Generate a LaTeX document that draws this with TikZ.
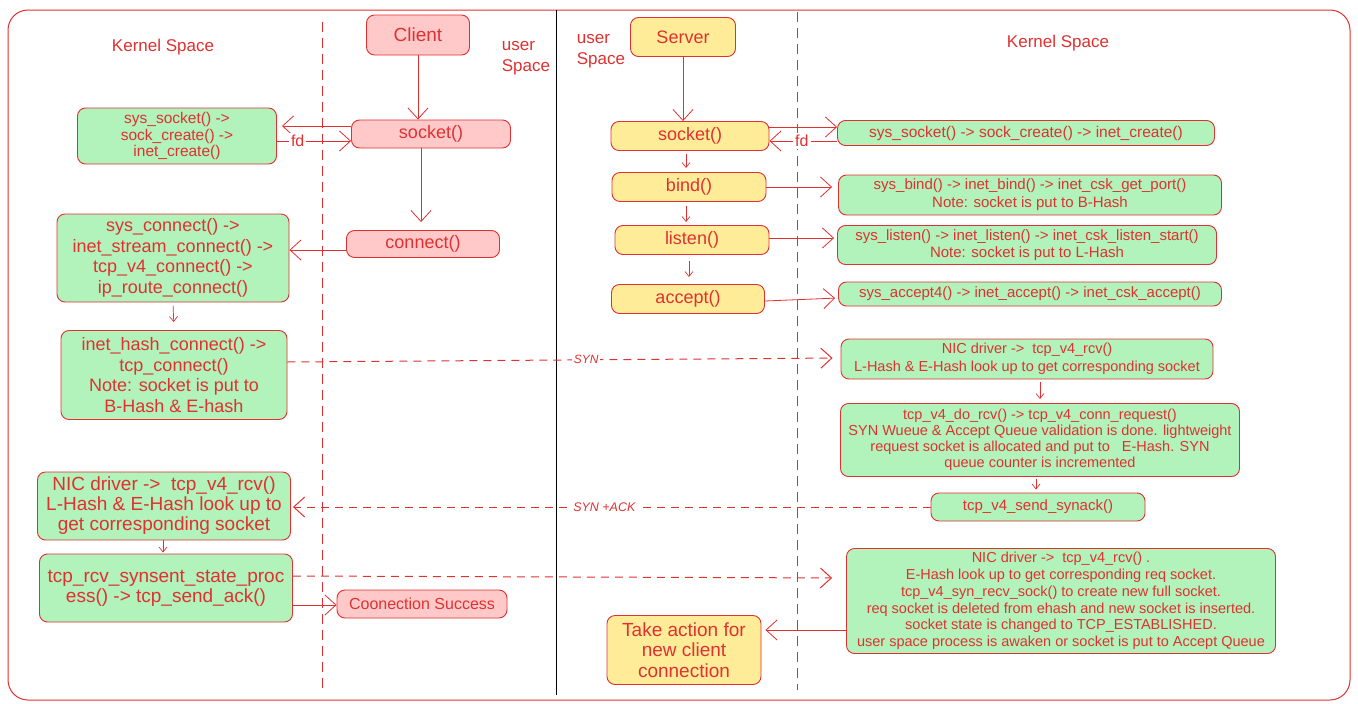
\documentclass[tikz,border=0pt]{standalone}
\usepackage{fontspec}
\setmainfont{Liberation Sans}
\usetikzlibrary{arrows.meta}

\definecolor{exred}{HTML}{E03131}
\definecolor{exgreen}{HTML}{B2F2BB}
\definecolor{expink}{HTML}{FFC9C9}
\definecolor{exyellow}{HTML}{FFEC99}
\newcommand{\fsz}[2]{\fontsize{#1}{#2}\selectfont}

\begin{document}
\begin{tikzpicture}[x=1pt,y=-1pt,
		box/.style={draw=exred, text=exred, rounded corners=8pt, line width=0.9pt, align=center, inner sep=2pt},
		kbox/.style={box, fill=exgreen},
		ubox/.style={box, fill=expink},
		sbox/.style={box, fill=exyellow},
		link/.style={draw=exred, line width=0.8pt, -{Straight Barb[length=11pt,width=20pt]}},
		hop/.style={draw=exred, line width=0.7pt, -{Straight Barb[length=5pt,width=8pt]}},
		pkt/.style={link, line width=1pt, dash pattern=on 8pt off 6pt},
		tag/.style={text=exred, fill=white, inner sep=2pt},
		title/.style={text=exred, align=left, font=\fsz{17}{21}}]
		\fill[white] (0,0) rectangle (1358,704);
		\useasboundingbox (0,0) rectangle (1358,704);

		% frame and space separators
		\draw[exred, line width=1pt, rounded corners=20pt] (8,10) rectangle (1350,700);
		\draw[exred, line width=0.9pt, dash pattern=on 10pt off 6pt] (322,22) -- (322,688);
		\draw[exred, line width=0.9pt, dash pattern=on 10pt off 6pt] (797,12) -- (797,690);
		\draw[black, line width=0.9pt] (556,10) -- (556,695);

		\node[title] (kernL) at (163,47) {Kernel Space};
		\node[title] (userL) at (526,58) {user\\Space};
		\node[title] (userR) at (601,51) {user\\Space};
		\node[title] (kernR) at (1058,43) {Kernel Space};

		% client side
		\node[ubox, minimum width=103pt, minimum height=40pt, font=\fsz{19}{22}] (client) at (418,35) {Client};
		\node[ubox, minimum width=159pt, minimum height=28pt, font=\fsz{18}{21}] (cliSock) at (431,134) {socket()};
		\node[ubox, minimum width=153pt, minimum height=27pt, font=\fsz{18}{21}] (cliConn) at (423,244) {connect()};
		\node[ubox, minimum width=170pt, minimum height=28pt, font=\fsz{16}{19}] (cliOk) at (422,604) {Coonection Success};

		\node[kbox, minimum width=199pt, minimum height=56pt, font=\fsz{15.5}{16.5}] (kSockL) at (177,136)
			{sys\_socket() ->\\sock\_create() ->\\inet\_create()};
		\node[kbox, minimum width=232pt, minimum height=88pt, font=\fsz{18}{20.5}] (kConn) at (173,258)
			{sys\_connect() ->\\inet\_stream\_connect() ->\\tcp\_v4\_connect() ->\\ip\_route\_connect()};
		\node[kbox, minimum width=226pt, minimum height=89pt, font=\fsz{18}{20.5}] (kHash) at (174,375)
			{inet\_hash\_connect() ->\\tcp\_connect()\\Note: socket is put to\\B-Hash \& E-hash};
		\node[kbox, minimum width=253pt, minimum height=68pt, font=\fsz{19}{20}] (kNicL) at (164,506)
			{NIC driver ->\ \ tcp\_v4\_rcv()\\L-Hash \& E-Hash look up to\\get corresponding socket};
		\node[kbox, minimum width=253pt, minimum height=68pt, font=\fsz{19}{20}] (kAck) at (166,588)
			{tcp\_rcv\_synsent\_state\_proc\\ess() -> tcp\_send\_ack()};

		% server side
		\node[sbox, minimum width=105pt, minimum height=39pt, font=\fsz{18}{21}] (server) at (683,37) {Server};
		\node[sbox, minimum width=158pt, minimum height=29pt, font=\fsz{18}{21}] (srvSock) at (690,136) {socket()};
		\node[sbox, minimum width=154pt, minimum height=29pt, font=\fsz{18}{21}] (srvBind) at (689,187) {bind()};
		\node[sbox, minimum width=154pt, minimum height=29pt, font=\fsz{18}{21}] (srvListen) at (692,240) {listen()};
		\node[sbox, minimum width=153pt, minimum height=29pt, font=\fsz{18}{21}] (srvAccept) at (688,299) {accept()};
		\node[sbox, minimum width=154pt, minimum height=69pt, font=\fsz{19}{20.5}] (srvAction) at (684,650)
			{Take action for\\new client\\connection};

		\node[kbox, minimum width=377pt, minimum height=25pt, font=\fsz{15.5}{18}] (kSockR) at (1026,133)
			{sys\_socket() -> sock\_create() -> inet\_create()};
		\node[kbox, minimum width=383pt, minimum height=40pt, font=\fsz{15}{18}] (kBind) at (1030,195)
			{sys\_bind() -> inet\_bind() -> inet\_csk\_get\_port()\\Note: socket is put to B-Hash};
		\node[kbox, minimum width=379pt, minimum height=39pt, font=\fsz{15}{17.5}] (kListen) at (1027,245)
			{sys\_listen() -> inet\_listen() -> inet\_csk\_listen\_start()\\Note: socket is put to L-Hash};
		\node[kbox, minimum width=383pt, minimum height=24pt, font=\fsz{15}{18}] (kAccept) at (1030,294)
			{sys\_accept4() -> inet\_accept() -> inet\_csk\_accept()};
		\node[kbox, minimum width=372pt, minimum height=40pt, font=\fsz{14.5}{18}] (kNicR) at (1027,359)
			{NIC driver ->\ \ tcp\_v4\_rcv()\\L-Hash \& E-Hash look up to get corresponding socket};
		\node[kbox, minimum width=399pt, minimum height=73pt, font=\fsz{14.5}{16}] (kDoRcv) at (1040,440)
			{tcp\_v4\_do\_rcv() -> tcp\_v4\_conn\_request()\\SYN Wueue \& Accept Queue validation is done. lightweight\\request socket is allocated and put to\ \ \ E-Hash. SYN\\queue counter is incremented};
		\node[kbox, minimum width=214pt, minimum height=28pt, font=\fsz{15}{18}] (kSynAck) at (1038,507)
			{tcp\_v4\_send\_synack()};
		\node[kbox, minimum width=429pt, minimum height=105pt, font=\fsz{14.5}{16.8}] (kEstab) at (1061,601)
			{NIC driver ->\ \ tcp\_v4\_rcv() .\\E-Hash look up to get corresponding req socket.\\tcp\_v4\_syn\_recv\_sock() to create new full socket.\\req socket is deleted from ehash and new socket is inserted.\\socket state is changed to TCP\_ESTABLISHED.\\user space process is awaken or socket is put to Accept Queue};

		% client calls
		\draw[link] (client.south) -- (client.south |- cliSock.north);
		\draw[link, shorten >=5pt] ([yshift=8pt]cliSock.west) -- ([yshift=10pt]kSockL.east);
		\draw[link] ([yshift=-5pt]kSockL.east) -- node[tag, pos=0.28] {\fsz{16}{18}fd} ([yshift=-7pt]cliSock.west);
		\draw[link, shorten >=8pt] ([xshift=-10pt]cliSock.south) -- ([xshift=-2pt]cliConn.north);
		\draw[link] ([yshift=-6pt]cliConn.west) -- ([yshift=8pt]kConn.east);
		\draw[hop, shorten <=3pt, shorten >=8pt] (kConn.south) -- (kHash.north);
		\draw[hop, shorten >=1pt] ([xshift=-1pt]kNicL.south) -- ([xshift=-3pt]kAck.north);
		\draw[link] ([yshift=-17pt]kAck.east) -- ([yshift=-1pt]cliOk.west);

		% server calls
		\draw[link] (server.south) -- (server.south |- srvSock.north);
		\draw[link] ([yshift=9pt]srvSock.east) -- ([yshift=6pt]kSockR.west);
		\draw[link] ([yshift=-8pt]kSockR.west) -- node[tag, pos=0.52] {\fsz{16}{18}fd} ([yshift=-5pt]srvSock.east);
		\draw[hop, shorten <=3pt, shorten >=4pt] ([xshift=-4pt]srvSock.south) -- ([xshift=-3pt]srvBind.north);
		\draw[hop, shorten <=4pt, shorten >=3pt] ([xshift=-3pt]srvBind.south) -- ([xshift=-6pt]srvListen.north);
		\draw[hop, shorten <=6pt, shorten >=7pt] ([xshift=-3pt]srvListen.south) -- ([xshift=1pt]srvAccept.north);
		\draw[link, shorten >=6pt] (srvBind.east) -- ([yshift=8pt]kBind.west);
		\draw[link, shorten >=3pt] ([yshift=2pt]srvListen.east) -- ([yshift=7pt]kListen.west);
		\draw[link, shorten >=3pt] ([yshift=-2pt]srvAccept.east) -- ([yshift=-4pt]kAccept.west);
		\draw[hop, shorten <=3pt, shorten >=4pt] ([xshift=13pt]kNicR.south) -- (kDoRcv.north);
		\draw[hop, shorten <=2pt, shorten >=3pt] ([xshift=-4pt]kDoRcv.south) -- ([xshift=-2pt]kSynAck.north);
		\draw[link, shorten >=4pt] ([yshift=-29pt]kEstab.west) -- ([yshift=20pt]srvAction.east);

		% packets on the wire
		\draw[pkt, shorten >=8pt] ([yshift=13pt]kHash.east) -- node[tag, pos=0.54] {\fsz{12}{14}\itshape SYN} ([yshift=1pt]kNicR.west);
		\draw[pkt, shorten >=2pt] (kSynAck.west) -- node[tag, pos=0.51] {\fsz{12.5}{14}\itshape SYN +ACK} ([yshift=-1pt]kNicL.east);
		\draw[pkt, shorten >=14pt] ([yshift=12pt]kAck.east) -- ([yshift=23pt]kEstab.west);
	\end{tikzpicture}
\end{document}
